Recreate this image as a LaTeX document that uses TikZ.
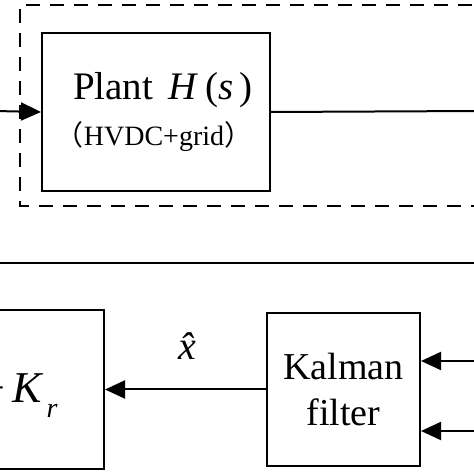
\documentclass[tikz,border=0pt]{standalone}
\usepackage{fontspec}
\setmainfont{Liberation Serif}
\newfontfamily\cjkfont{Noto Sans CJK SC}
\usetikzlibrary{arrows.meta}
\tikzset{
  blk/.style={draw, line width=2pt, minimum width=#1, inner sep=0pt, align=center},
  conn/.style={line width=2pt},
  tip/.style={-{Triangle[length=20pt,width=18pt]}},
  bnd/.style={line width=1.5pt, dash pattern=on 14pt off 10pt}
}
\begin{document}
\begin{tikzpicture}[x=1pt,y=1pt]
\useasboundingbox (0,0) rectangle (474,474);
\clip (0,0) rectangle (474,474);
% dashed boundary
\draw[bnd] (520,469) -- (20,469) -- (20,268) -- (520,268);
% plant
\node[blk=228pt, minimum height=158pt] (plant) at (156,362) {};
\node[font=\fontsize{39}{42}\selectfont] (plantlbl) at (163,384) {Plant\hspace{0.4em}\textit{H}\,(\textit{s}\,)};
\node[font=\fontsize{28}{30}\selectfont] (plantsub) at (154,337) {{\cjkfont （}HVDC+grid{\cjkfont ）}};
\coordinate (inL) at (-5,363);
\coordinate (outR) at (480,363);
\draw[conn,tip] (inL) -- (plant.west);
\draw[conn] (plant.east) -- (outR);
% feedback line
\coordinate (fbL) at (-5,211);
\coordinate (fbR) at (480,211);
\draw[conn] (fbL) -- (fbR);
% Kr box
\node[blk=164pt, minimum height=159pt] (kr) at (22,84) {};
\node[font=\fontsize{44}{46}\selectfont] (krlbl) at (19,78) {−\,\textit{K}\kern3pt\raisebox{-15pt}{\fontsize{28}{30}\selectfont\textit{r}}};
% Kalman
\node[blk=153pt, minimum height=153pt, font=\fontsize{38}{46}\selectfont] (kal) at (343.5,84.5) {Kalman\\filter};
\draw[conn,tip] (kal.west) -- (kal.west -| kr.east);
\node[font=\fontsize{40}{42}\selectfont] (xhat) at (195,128) {\textit{x^^^^0302}};
\coordinate (in1) at (480,113);
\coordinate (in2) at (480,43);
\draw[conn,tip] (in1) -- (in1 -| kal.east);
\draw[conn,tip] (in2) -- (in2 -| kal.east);
\end{tikzpicture}
\end{document}
